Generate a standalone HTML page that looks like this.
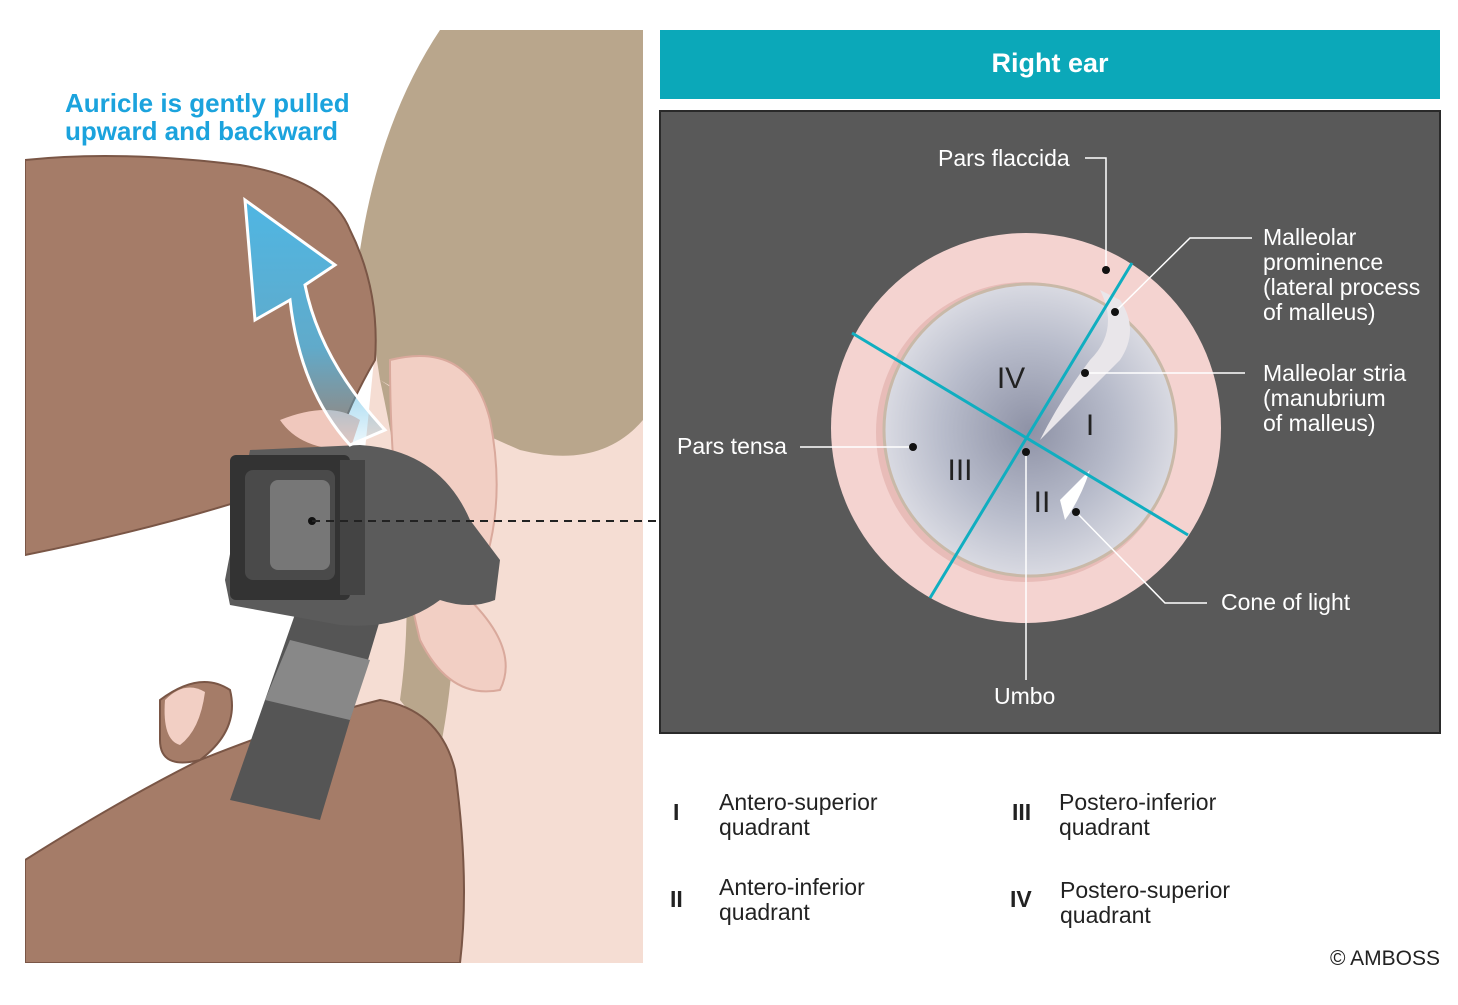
<!DOCTYPE html>
<html><head><meta charset="utf-8"><style>
html,body{margin:0;padding:0;background:#fff;}
body{width:1458px;height:1000px;overflow:hidden;font-family:"Liberation Sans",sans-serif;}
</style></head><body>
<svg width="1458" height="1000" viewBox="0 0 1458 1000" xmlns="http://www.w3.org/2000/svg" font-family="Liberation Sans, sans-serif">
<defs>
<radialGradient id="mem" cx="0.5" cy="0.5" r="0.5">
<stop offset="0" stop-color="#8e92a6"/><stop offset="0.6" stop-color="#b8bccb"/><stop offset="1" stop-color="#d9dae2"/>
</radialGradient>
<linearGradient id="arr" x1="0" y1="1" x2="0" y2="0">
<stop offset="0" stop-color="#4fb6e3" stop-opacity="0.1"/><stop offset="0.4" stop-color="#4fb6e3" stop-opacity="0.8"/><stop offset="1" stop-color="#4fb6e3"/>
</linearGradient>
<clipPath id="lc"><rect x="25" y="30" width="618" height="933"/></clipPath>
</defs>
<!-- left illustration -->
<g clip-path="url(#lc)">
<rect x="25" y="30" width="618" height="933" fill="#fff"/>
<path d="M440 30 L643 30 L643 963 L300 963 L330 700 L360 500 L380 300 L400 150 Z" fill="#f5ddd3"/>
<path d="M440 30 L643 30 L643 420 Q600 470 520 450 Q450 420 380 380 L360 250 Q380 120 440 30 Z" fill="#b9a68c"/>
<path d="M380 380 Q420 560 400 700 L440 750 Q470 600 440 420 Z" fill="#b9a68c"/>
<path d="M390 360 Q470 340 490 420 Q510 520 470 600 Q520 650 500 690 Q450 700 420 640 Q390 520 390 360 Z" fill="#f2cfc4" stroke="#d9a99c" stroke-width="2"/>
<path d="M25 160 Q120 150 240 165 Q330 180 350 230 Q380 290 375 360 Q340 420 330 470 Q200 520 25 555 Z" fill="#a57c68" stroke="#7a5646" stroke-width="2"/>
<path d="M280 420 Q330 400 360 420 L350 450 Q300 450 280 420 Z" fill="#f0c8bd"/>
<path d="M25 963 L25 860 Q120 800 200 760 Q300 720 380 700 Q440 710 455 770 Q470 880 460 963 Z" fill="#a57c68" stroke="#7a5646" stroke-width="2"/>
<path d="M160 700 Q200 670 230 690 Q240 730 200 760 Q160 770 160 740 Z" fill="#a57c68" stroke="#7a5646" stroke-width="2"/>
<path d="M165 700 Q185 680 205 692 Q200 730 180 745 Q162 740 165 700 Z" fill="#f2cfc4"/>
<!-- otoscope -->
<path d="M300 600 L380 620 L320 820 L230 800 Z" fill="#555"/>
<path d="M290 640 L370 660 L350 720 L265 700 Z" fill="#888"/>
<path d="M250 450 L360 445 Q440 450 470 520 L500 560 L495 600 Q470 610 440 600 Q400 630 340 625 L230 605 L225 580 Z" fill="#5b5b5b"/>
<rect x="230" y="455" width="120" height="145" rx="6" fill="#333"/>
<rect x="245" y="470" width="90" height="110" rx="8" fill="#4a4a4a"/>
<rect x="270" y="480" width="60" height="90" rx="8" fill="#777"/>
<rect x="340" y="460" width="25" height="135" fill="#444"/>
<circle cx="312" cy="521" r="4" fill="#111"/>
</g>
<line x1="312" y1="521" x2="660" y2="521" stroke="#222" stroke-width="2" stroke-dasharray="8,6"/>
<!-- arrow -->
<path d="M350 445 Q300 390 290 300 L255 320 L245 200 L335 265 L305 285 Q320 360 385 430 Z" fill="url(#arr)" stroke="#fff" stroke-width="3"/>
<text x="65" y="112" font-size="26" font-weight="bold" fill="#1ba3dd">Auricle is gently pulled</text>
<text x="65" y="140" font-size="26" font-weight="bold" fill="#1ba3dd">upward and backward</text>
<!-- header -->
<rect x="660" y="30" width="780" height="69" fill="#0ba8b9"/>
<text x="1050" y="72" font-size="27" font-weight="bold" fill="#fff" text-anchor="middle">Right ear</text>
<!-- panel -->
<rect x="660" y="111" width="780" height="622" fill="#595959" stroke="#2a2a2a" stroke-width="2"/>
<circle cx="1026" cy="428" r="195" fill="#f4d3d0"/>
<circle cx="1026" cy="432" r="150" fill="#e8bcb8"/>
<circle cx="1030" cy="430" r="146" fill="url(#mem)" stroke="#c9b9a8" stroke-width="3"/>
<path d="M1100 290 Q1120 330 1090 360 Q1060 400 1040 440 Q1080 400 1120 360 Q1140 330 1120 300 Z" fill="#e9e6ea"/>
<path d="M1060 500 Q1080 480 1090 470 Q1080 500 1065 520 Z" fill="#fff"/>
<g stroke="#10aec0" stroke-width="3">
<line x1="852" y1="333" x2="1188" y2="535"/>
<line x1="930" y1="598" x2="1132" y2="263"/>
</g>
<g font-size="30" fill="#222" text-anchor="middle">
<text x="1011" y="388">IV</text><text x="1090" y="435">I</text>
<text x="960" y="480">III</text><text x="1042" y="512">II</text>
</g>
<g stroke="#fff" stroke-width="1.5" fill="none">
<polyline points="1085,158 1106,158 1106,270"/>
<polyline points="1252,238 1190,238 1115,312"/>
<polyline points="1245,373 1085,373"/>
<polyline points="800,447 913,447"/>
<polyline points="1207,603 1165,603 1076,512"/>
<polyline points="1026,452 1026,680"/>
</g>
<g fill="#111"><circle cx="1106" cy="270" r="4"/><circle cx="1115" cy="312" r="4"/><circle cx="1085" cy="373" r="4"/><circle cx="913" cy="447" r="4"/><circle cx="1076" cy="512" r="4"/><circle cx="1026" cy="452" r="4"/></g>
<g font-size="23" fill="#fff">
<text x="938" y="166">Pars flaccida</text>
<text x="1263" y="245">Malleolar</text><text x="1263" y="270">prominence</text><text x="1263" y="295">(lateral process</text><text x="1263" y="320">of malleus)</text>
<text x="1263" y="381">Malleolar stria</text><text x="1263" y="406">(manubrium</text><text x="1263" y="431">of malleus)</text>
<text x="677" y="454">Pars tensa</text>
<text x="1221" y="610">Cone of light</text>
<text x="994" y="704">Umbo</text>
</g>
<!-- legend -->
<g font-size="23" fill="#222">
<text x="673" y="820" font-weight="bold">I</text>
<text x="719" y="810">Antero-superior</text><text x="719" y="835">quadrant</text>
<text x="670" y="907" font-weight="bold">II</text>
<text x="719" y="895">Antero-inferior</text><text x="719" y="920">quadrant</text>
<text x="1012" y="820" font-weight="bold">III</text>
<text x="1059" y="810">Postero-inferior</text><text x="1059" y="835">quadrant</text>
<text x="1010" y="907" font-weight="bold">IV</text>
<text x="1060" y="898">Postero-superior</text><text x="1060" y="923">quadrant</text>
<text x="1440" y="965" text-anchor="end" font-size="21">© AMBOSS</text>
</g>
</svg>
</body></html>
